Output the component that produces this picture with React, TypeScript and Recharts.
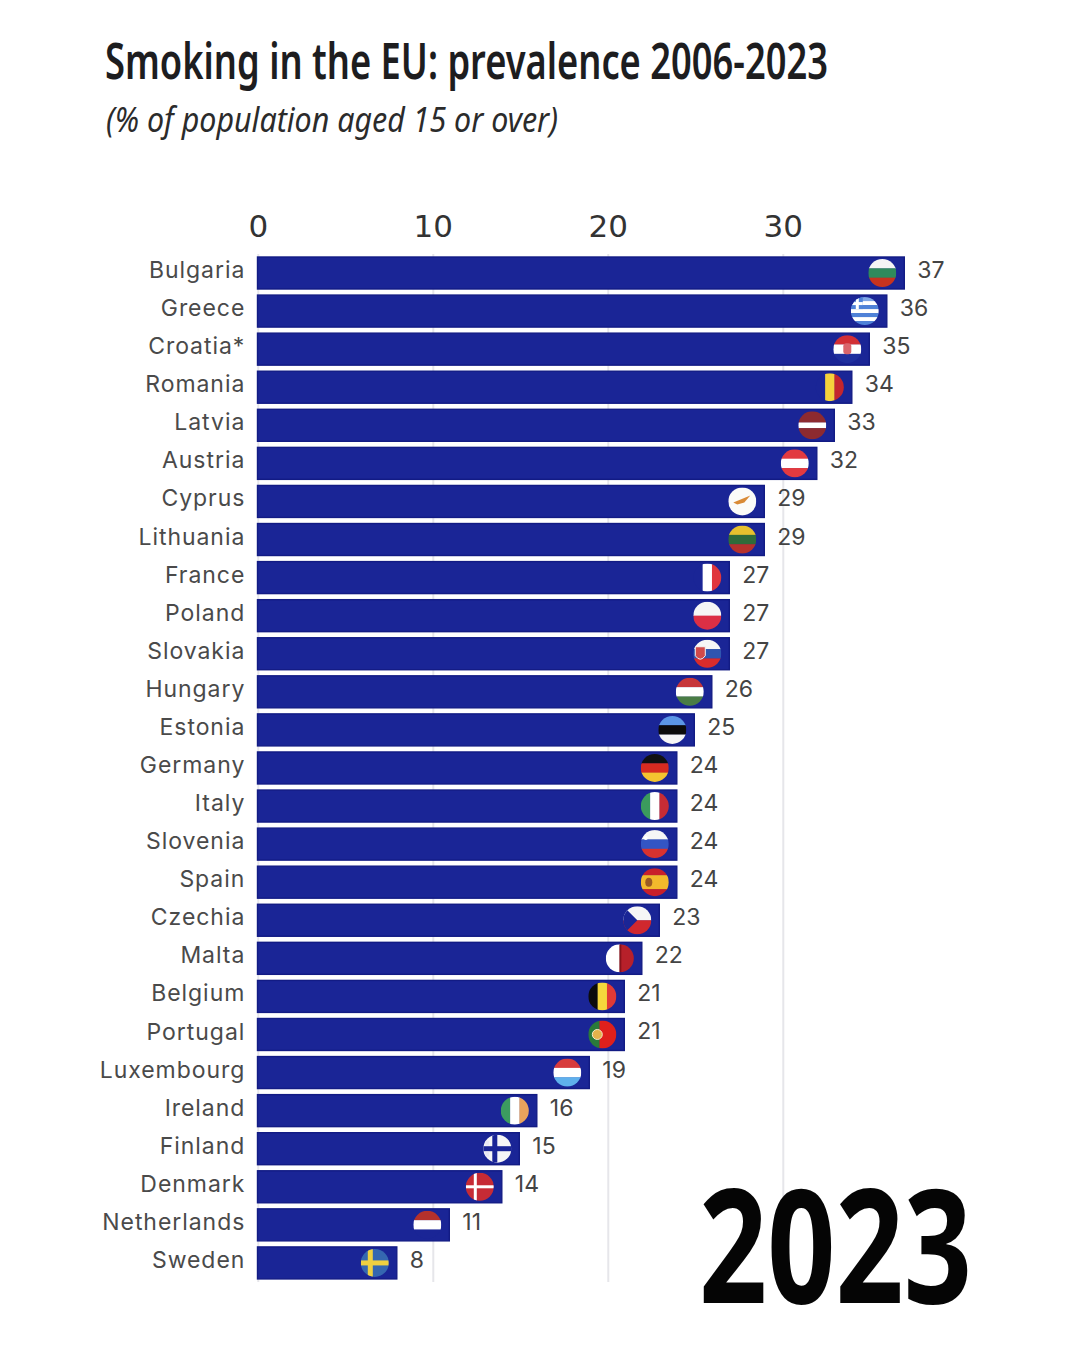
import React from "react";
import { BarChart, Bar, XAxis, YAxis, CartesianGrid, LabelList } from "recharts";

const countries = ["Bulgaria","Greece","Croatia*","Romania","Latvia","Austria","Cyprus","Lithuania","France","Poland","Slovakia","Hungary","Estonia","Germany","Italy","Slovenia","Spain","Czechia","Malta","Belgium","Portugal","Luxembourg","Ireland","Finland","Denmark","Netherlands","Sweden"];
const rates = [37,36,35,34,33,32,29,29,27,27,27,26,25,24,24,24,24,23,22,21,21,19,16,15,14,11,8];
const xTicks = [0,10,20,30];
const year = "2023";
const titleText = "Smoking in the EU: prevalence 2006-2023";
const subtitleText = "(% of population aged 15 or over)";

const rows = countries.map((country, i) => ({ country, value: rates[i] }));

const NAVY = "#1a2596";
const hStripes: Record<string, [string, number][]> = {
  "Bulgaria": [["#f4f4f4",1],["#2f8a5c",1],["#c7331f",1]],
  "Croatia*": [["#d22f35",1],["#ffffff",1],["#1f2f9e",1]],
  "Latvia": [["#8d2a30",2],["#ffffff",1],["#8d2a30",2]],
  "Austria": [["#e23a40",1],["#ffffff",1],["#e23a40",1]],
  "Lithuania": [["#e6c02e",1],["#2f6b3a",1],["#b5312c",1]],
  "Poland": [["#f6f6f6",1],["#dc2f45",1]],
  "Slovakia": [["#f6f6f6",1],["#2f55b0",1],["#d92c2c",1]],
  "Hungary": [["#c7363a",1],["#ffffff",1],["#4a7c45",1]],
  "Estonia": [["#5b96e6",1],["#0b0b0b",1],["#f6f6f6",1]],
  "Germany": [["#111111",1],["#d72b20",1],["#f4c430",1]],
  "Slovenia": [["#f6f6f6",1],["#3355c4",1],["#d8322f",1]],
  "Spain": [["#c8202a",1],["#f2b92c",2],["#c8202a",1]],
  "Czechia": [["#f6f6f6",1],["#d0282e",1]],
  "Luxembourg": [["#d83c3c",1],["#ffffff",1],["#5fb0ec",1]],
  "Netherlands": [["#b5312c",1],["#ffffff",1],[NAVY,1]],
  "Cyprus": [["#fbfbf8",1]],
  "Greece": [["#7fa6e6",1],["#ffffff",1],["#4f82d8",1],["#ffffff",1],["#4f82d8",1],["#ffffff",1],["#4f82d8",1]],
  "Finland": [["#f6f6f6",1]],
  "Denmark": [["#c62b35",1]],
  "Sweden": [["#3567b0",1]],
};
const vStripes: Record<string, [string, number][]> = {
  "Romania": [[NAVY,1],["#f5d23c",1],["#c4262e",1]],
  "France": [[NAVY,1],["#ffffff",1],["#e0363c",1]],
  "Italy": [["#3b9b5d",1],["#ffffff",1],["#c72c35",1]],
  "Malta": [["#ffffff",1],["#b7202a",1]],
  "Belgium": [["#0c0c0c",1],["#f5d83c",1],["#e03a36",1]],
  "Portugal": [["#2a7a3a",2],["#e0201c",3]],
  "Ireland": [["#3c9c60",1],["#ffffff",1],["#e9a35c",1]],
};

const R = 14;

function FlagExtras({ name, cx, cy }: { name: string; cx: number; cy: number }) {
  switch (name) {
    case "Greece":
      return (<g><rect x={cx - R} y={cy - R} width={12} height={12} fill="#4f82d8" /><rect x={cx - R} y={cy - 9} width={12} height={3} fill="#fff" /><rect x={cx - 9} y={cy - R} width={3} height={12} fill="#fff" /></g>);
    case "Croatia*":
      return <rect x={cx - 4} y={cy - 6} width={8} height={11} rx={3} fill="#d9656b" />;
    case "Cyprus":
      return <path d={`M${cx - 9} ${cy + 1} L${cx + 8} ${cy - 6} L${cx + 2} ${cy + 1} L${cx - 5} ${cy + 3} Z`} fill="#d98a35" />;
    case "Slovakia":
      return <path d={`M${cx - 12} ${cy - 7} h10 v9 q-5 7 -10 0 Z`} fill="#d24a4a" stroke="#f4f4f4" />;
    case "Slovenia":
      return <circle cx={cx - 9} cy={cy - 6} r={2} fill="#fff" />;
    case "Spain":
      return <ellipse cx={cx - 6} cy={cy} rx={3.5} ry={4.5} fill="#9a5a24" />;
    case "Czechia":
      return <path d={`M${cx - R} ${cy - R} L${cx} ${cy} L${cx - R} ${cy + R} Z`} fill={NAVY} />;
    case "Malta":
      return <rect x={cx - 0.5} y={cy - R} width={2} height={2 * R} fill="#7a0f18" opacity={0.8} />;
    case "Portugal":
      return <circle cx={cx - 5} cy={cy} r={5} fill="#e4b24c" stroke="#f4e8c8" />;
    case "Finland":
      return (<g><rect x={cx - R} y={cy - 2.5} width={2 * R} height={5} fill={NAVY} /><rect x={cx - 5} y={cy - R} width={5} height={2 * R} fill={NAVY} /><rect x={cx - 12} y={cy - 8} width={4} height={5} fill="#e8e8f4" /><rect x={cx - 12} y={cy + 3} width={4} height={5} fill="#e8e8f4" /></g>);
    case "Denmark":
      return (<g><rect x={cx - R} y={cy - 1.5} width={2 * R} height={3} fill="#fff" /><rect x={cx - 6} y={cy - R} width={3} height={2 * R} fill="#fff" /></g>);
    case "Sweden":
      return (<g><rect x={cx - R} y={cy - 2.5} width={2 * R} height={5} fill="#efd040" /><rect x={cx - 7} y={cy - R} width={5} height={2 * R} fill="#efd040" /></g>);
    default:
      return null;
  }
}

function Flag({ name, cx, cy }: { name: string; cx: number; cy: number }) {
  const id = "clip-" + name.replace(/\W/g, "");
  const parts = hStripes[name] ?? vStripes[name] ?? [];
  const horizontal = !!hStripes[name];
  const total = parts.reduce((s, p) => s + p[1], 0);
  let acc = 0;
  return (
    <g>
      <clipPath id={id}><circle cx={cx} cy={cy} r={R} /></clipPath>
      <g clipPath={`url(#${id})`}>
        {parts.map(([color, w], i) => {
          const start = (acc / total) * 2 * R;
          const size = (w / total) * 2 * R;
          acc += w;
          return horizontal
            ? <rect key={i} x={cx - R} y={cy - R + start} width={2 * R} height={size + 0.3} fill={color} />
            : <rect key={i} x={cx - R + start} y={cy - R} width={size + 0.3} height={2 * R} fill={color} />;
        })}
        <FlagExtras name={name} cx={cx} cy={cy} />
      </g>
    </g>
  );
}

function FlagBar(props: any) {
  const { x, y, width, height, payload } = props;
  const w = width - 1.5;
  return (
    <g>
      <rect x={x - 0.8} y={y} width={w + 0.8} height={height} fill={NAVY} stroke="#121b84" strokeWidth={1.4} />
      <Flag name={payload.country} cx={x + w - 22} cy={y + height / 2} />
    </g>
  );
}

const SANS = "Inter, 'Noto Sans', sans-serif";
const NARROW = "'Noto Sans', sans-serif";

function CountryTick(props: any) {
  const { x, y, payload } = props;
  return (
    <text x={x + 1} y={y} dy={5} textAnchor="end" fontFamily={SANS} fontSize={23} letterSpacing={0.95} fill="#4a4a4a">
      {payload.value}
    </text>
  );
}

function ValueLabel(props: any) {
  const { x, y, width, height, value } = props;
  return (
    <text x={x + width + 11.5} y={y + height / 2} dy={5} fontFamily={SANS} fontSize={23} fill="#444">
      {value}
    </text>
  );
}

export default function App() {
  const titleScale = 0.62;
  const yearScale = 0.8;
  return (
    <div style={{ position: "absolute", left: 0, top: 0, width: 1080, height: 1350, background: "#fff", overflow: "hidden" }}>
      <svg width={1080} height={200} style={{ position: "absolute", left: 0, top: 0 }}>
        <text transform={`translate(105 79) scale(${titleScale} 1)`} fontFamily={NARROW} fontWeight={600} fontSize={50} fill="#1d1d1f" textLength={723 / titleScale} lengthAdjust="spacingAndGlyphs">{titleText}</text>
        <text x={106} y={132} fontFamily={NARROW} fontStyle="italic" fontSize={35} fill="#2b2b2b" textLength={452} lengthAdjust="spacingAndGlyphs">{subtitleText}</text>
      </svg>
      <BarChart
        width={1000}
        height={1300}
        layout="vertical"
        data={rows}
        barSize={32}
        margin={{ top: 214, right: 41.7, bottom: 18, left: 8.3 }}
        style={{ position: "absolute", left: 0, top: 0 }}
      >
        <CartesianGrid horizontal={false} vertical syncWithTicks verticalValues={xTicks} stroke="#e6e6ea" strokeWidth={2} />
        <XAxis
          type="number"
          orientation="top"
          domain={[0, 40]}
          ticks={xTicks}
          height={40}
          axisLine={false}
          tickLine={false}
          tickMargin={11}
          tick={{ fontFamily: "'DejaVu Sans', sans-serif", fontSize: 31, fill: "#333" }}
        />
        <YAxis
          type="category"
          dataKey="country"
          width={250}
          interval={0}
          axisLine={false}
          tickLine={false}
          tickMargin={8}
          tick={CountryTick}
        />
        <Bar dataKey="value" isAnimationActive={false} shape={FlagBar}>
          <LabelList dataKey="value" content={ValueLabel} />
        </Bar>
      </BarChart>
      <svg width={1080} height={1350} style={{ position: "absolute", left: 0, top: 0, pointerEvents: "none" }}>
        <text transform={`translate(699 1303) scale(${yearScale} 1)`} fontFamily={NARROW} fontWeight={700} fontSize={158} fill="#050505" textLength={273 / yearScale} lengthAdjust="spacingAndGlyphs">{year}</text>
      </svg>
    </div>
  );
}
